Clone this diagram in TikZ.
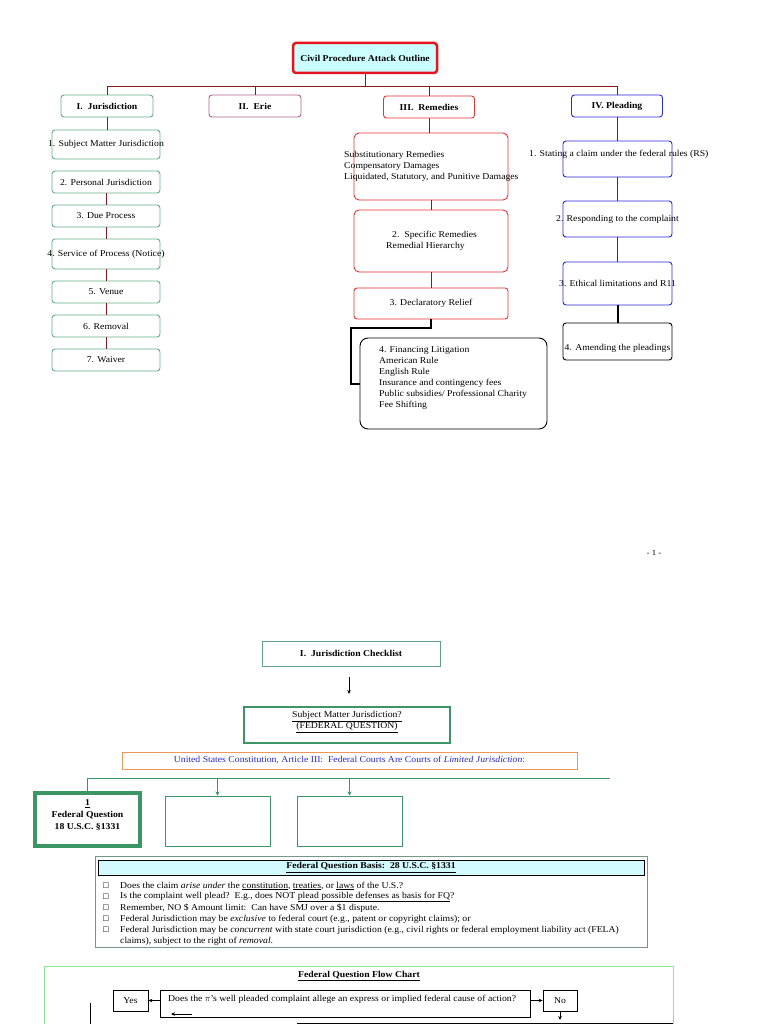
\documentclass[tikz,border=0pt]{standalone}
\usepackage{fontspec}
\setmainfont{Liberation Serif}[FakeStretch=1.08]
\newfontfamily\symfont{DejaVu Sans}
\usetikzlibrary{arrows.meta}
\definecolor{maroonc}{RGB}{140,20,30}
\definecolor{topred}{RGB}{230,20,30}
\definecolor{topfill}{RGB}{204,255,255}
\definecolor{jgreen}{RGB}{100,175,135}
\definecolor{eriec}{RGB}{175,100,135}
\definecolor{remred}{RGB}{230,50,50}
\definecolor{plblue}{RGB}{40,40,220}
\definecolor{tgreen}{RGB}{60,150,100}
\definecolor{chkgreen}{RGB}{100,160,130}
\definecolor{orangec}{RGB}{240,150,90}
\definecolor{bluetext}{RGB}{40,40,200}
\definecolor{lgreen}{RGB}{140,230,140}
\definecolor{fqfill}{RGB}{210,250,255}
\definecolor{outerc}{RGB}{120,150,135}
\tikzset{
  box/.style={draw, rounded corners=3pt, line width=0.9pt, inner sep=0pt, font=\fontsize{9}{11}\selectfont, align=center},
  sqbox/.style={draw, line width=0.8pt, inner sep=0pt, font=\fontsize{9}{11}\selectfont, align=center},
  txt/.style={inner sep=0pt, font=\fontsize{9}{11}\selectfont, align=left},
  conn/.style={draw=maroonc, line width=0.8pt},
  thickconn/.style={draw=black, line width=2pt},
  arr/.style={-{Stealth[length=4pt,width=3.5pt]}, line width=0.7pt},
  bul/.style={inner sep=0pt, font=\symfont\fontsize{7}{8}\selectfont},
}
\begin{document}
\begin{tikzpicture}[x=1pt,y=-1pt]
\useasboundingbox (0,0) rectangle (768,1024);
\clip (0,0) rectangle (768,1024);
\fill[white] (0,0) rectangle (768,1024);

% ---------- top outline ----------
\node[box, draw=topred, line width=2.5pt, fill=topfill, minimum width=144, minimum height=30, font=\bfseries\fontsize{9}{11}\selectfont] (top) at (365,58) {Civil Procedure Attack Outline};
\coordinate (hb) at (365,86);
\coordinate (hl) at (107,86);
\coordinate (hr) at (617,86);

\node[box, draw=jgreen, minimum width=92, minimum height=22, font=\bfseries\fontsize{9}{11}\selectfont] (jur) at (107,106) {I.\ \ Jurisdiction};
\node[box, draw=eriec, minimum width=92, minimum height=22, font=\bfseries\fontsize{9}{11}\selectfont] (erie) at (255,106) {II.\ \ Erie};
\node[box, draw=remred, minimum width=91, minimum height=22, font=\bfseries\fontsize{9}{11}\selectfont] (rem) at (429,107) {III.\ \ Remedies};
\node[box, draw=plblue, minimum width=91, minimum height=22, font=\bfseries\fontsize{9}{11}\selectfont] (pl) at (617,106) {IV. Pleading};

\draw[conn] (top.south) -- (hb);
\draw[conn] (hl) -- (hr);
\draw[conn] (jur.north |- hb) -- (jur.north);
\draw[conn] (erie.north |- hb) -- (erie.north);
\draw[conn] (rem.north |- hb) -- (rem.north);
\draw[conn] (pl.north |- hb) -- (pl.north);

% ---------- jurisdiction column ----------
\node[box, draw=jgreen, minimum width=108, minimum height=29] (j1) at (106,144.5) {};
\node[txt] at (j1) {1. Subject Matter Jurisdiction};
\node[box, draw=jgreen, minimum width=108, minimum height=22] (j2) at (106,182) {2. Personal Jurisdiction};
\node[box, draw=jgreen, minimum width=108, minimum height=22] (j3) at (106,216) {3. Due Process};
\node[box, draw=jgreen, minimum width=108, minimum height=30] (j4) at (106,254) {};
\node[txt] at (j4) {4. Service of Process (Notice)};
\node[box, draw=jgreen, minimum width=108, minimum height=22] (j5) at (106,292) {5. Venue};
\node[box, draw=jgreen, minimum width=108, minimum height=22] (j6) at (106,326) {6. Removal};
\node[box, draw=jgreen, minimum width=108, minimum height=22] (j7) at (106,360) {7. Waiver};

\draw[conn] (jur.south) -- (jur.south |- j1.north);
\draw[conn] (j2.south) -- (j3.north);
\draw[conn] (j3.south) -- (j4.north);
\draw[conn] (j4.south) -- (j5.north);
\draw[conn] (j5.south) -- (j6.north);
\draw[conn] (j6.south) -- (j7.north);

% ---------- remedies column ----------
\node[box, draw=remred, rounded corners=5pt, minimum width=154, minimum height=67] (rA) at (431,166.5) {};
\node[txt, anchor=west] at (344,166) {Substitutionary Remedies\\Compensatory Damages\\Liquidated, Statutory, and Punitive Damages};
\node[box, draw=remred, rounded corners=5pt, minimum width=154, minimum height=62] (rB) at (431,241) {};
\node[txt, anchor=west] at (386,241) {\hspace{6pt}2.\ \ Specific Remedies\\Remedial Hierarchy};
\node[box, draw=remred, minimum width=154, minimum height=31] (rC) at (431,303.5) {3. Declaratory Relief};
\node[box, draw=black, rounded corners=8pt, minimum width=187, minimum height=91] (rD) at (453.5,383.5) {};
\node[txt, anchor=west] at (379,378) {4. Financing Litigation\\American Rule\\English Rule\\Insurance and contingency fees\\Public subsidies/ Professional Charity\\Fee Shifting};

\draw[conn] (rem.south) -- (rem.south |- rA.north);
\draw[conn] (rA.south) -- (rB.north);
\draw[conn] (rB.south) -- (rC.north);
\coordinate (e1) at (351,328);
\draw[thickconn] (rC.south) |- (e1) |- (rD.west);

% ---------- pleading column ----------
\node[box, draw=plblue, minimum width=109, minimum height=36] (p1) at (617.5,159) {};
\node[txt, anchor=west] at (529,154) {1. Stating a claim under the federal rules (RS)};
\node[box, draw=plblue, minimum width=109, minimum height=36] (p2) at (617.5,219) {};
\node[txt, anchor=west] at (556,219) {2. Responding to the complaint};
\node[box, draw=plblue, minimum width=109, minimum height=43] (p3) at (617.5,283.5) {};
\node[txt, anchor=west] at (559,283) {3. Ethical limitations and R11};
\node[box, draw=black, minimum width=109, minimum height=37] (p4) at (617.5,341.5) {};
\node[txt] at (617.5,348) {4. Amending the pleadings};

\draw[conn] (pl.south) -- (pl.south |- p1.north);
\draw[conn] (p1.south) -- (p2.north);
\draw[conn] (p2.south) -- (p3.north);
\draw[thickconn] (p3.south) -- (p4.north);

% page number
\node[txt, font=\fontsize{8}{9}\selectfont] (pg) at (654,553) {- 1 -};

% ---------- checklist ----------
\node[sqbox, draw=chkgreen, minimum width=178, minimum height=25, font=\bfseries\fontsize{9}{11}\selectfont] (chk) at (351,653.5) {I.\ \ Jurisdiction Checklist};
\coordinate (a1) at (349,677);
\coordinate (a2) at (349,694);
\draw[arr] (a1) -- (a2);

\node[sqbox, draw=tgreen, line width=2.5pt, minimum width=206, minimum height=36] (smj) at (347,725) {};
\node[txt, align=center] at (347,722) {\underline{Subject Matter Jurisdiction?}\\\underline{(FEDERAL QUESTION)}};

\node[sqbox, draw=orangec, minimum width=455, minimum height=17, text=bluetext] (art) at (349.5,760.5) {United States Constitution, Article III:\ \ Federal Courts Are Courts of \textit{Limited Jurisdiction}:};

\node[sqbox, draw=tgreen, line width=3.5pt, minimum width=105, minimum height=53] (fq) at (87.5,819.5) {};
\node[txt, align=center, font=\bfseries\fontsize{9}{12}\selectfont] at (87.5,815) {\underline{1}\\Federal Question\\18 U.S.C. §1331};
\node[sqbox, draw=tgreen, line width=1pt, minimum width=105, minimum height=50] (b2) at (217.5,821) {};
\node[sqbox, draw=tgreen, line width=1pt, minimum width=105, minimum height=50] (b3) at (349.5,821) {};

\coordinate (gl) at (88,778);
\coordinate (gr) at (610,778);
\draw[draw=tgreen, line width=0.8pt] (fq.north) |- (gr);
\draw[arr, draw=tgreen, -{Stealth[length=4pt,width=4pt]}] (b2.north |- gl) -- (b2.north);
\draw[arr, draw=tgreen, line width=1.4pt, -{Stealth[length=4pt,width=4pt]}] (b3.north |- gl) -- (b3.north);

% ---------- federal question basis ----------
\node[sqbox, draw=outerc, line width=0.8pt, minimum width=552, minimum height=91] (basis) at (371,902) {};
\node[sqbox, draw=black, fill=fqfill, minimum width=546, minimum height=15, font=\bfseries\fontsize{9}{11}\selectfont] (bh) at (371,867.5) {\underline{Federal Question Basis:\ \ 28 U.S.C. §1331}};

\node[bul] (q1) at (106,886) {□};
\node[bul] (q2) at (106,897) {□};
\node[bul] (q3) at (106,908) {□};
\node[bul] (q4) at (106,919) {□};
\node[bul] (q5) at (106,930) {□};
\node[txt, anchor=west] (l1) at (120,886) {Does the claim \textit{arise under} the \underline{constitution}, \underline{treaties}, or \underline{laws} of the U.S.?};
\node[txt, anchor=west] (l2) at (120,897) {Is the complaint well plead?\ \ E.g., does NOT \underline{plead possible defenses as basis for FQ}?};
\node[txt, anchor=west] (l3) at (120,908) {Remember, NO \$ Amount limit:\ \ Can have SMJ over a \$1 dispute.};
\node[txt, anchor=west] (l4) at (120,919) {Federal Jurisdiction may be \textit{exclusive} to federal court (e.g., patent or copyright claims); or};
\node[txt, anchor=west] (l5) at (120,930) {Federal Jurisdiction may be \textit{concurrent} with state court jurisdiction (e.g., civil rights or federal employment liability act (FELA)};
\node[txt, anchor=west] (l6) at (120,941) {claims), subject to the right of \textit{removal}.};

% ---------- flow chart ----------
\draw[draw=lgreen, line width=1pt] (44,966) rectangle (673,1040);
\node[txt, font=\bfseries\fontsize{9}{11}\selectfont] (fct) at (359,976) {\underline{Federal Question Flow Chart}};
\node[sqbox, minimum width=35, minimum height=21] (yes) at (130.5,1000.5) {Yes};
\node[sqbox, minimum width=370, minimum height=27] (q) at (345,1003.5) {};
\node[txt, anchor=west] at (168,999) {Does the $\pi$'s well pleaded complaint allege an express or implied federal cause of action?};
\node[sqbox, minimum width=34, minimum height=21] (no) at (560,1000.5) {No};
\draw[arr] (q.west |- yes) -- (yes.east);
\draw[arr] (q.east |- no) -- (no.west);
\coordinate (nd) at (556,1020);
\draw[arr] (no.south) -- (no.south |- nd);
\coordinate (qa1) at (192,1014);
\coordinate (qa2) at (171,1014);
\draw[arr, line width=1pt] (qa1) -- (qa2);
\coordinate (h1) at (297,1023);
\coordinate (h2) at (673,1023);
\draw[line width=0.8pt] (h1) -- (h2);
\coordinate (v1) at (90,1003);
\coordinate (v2) at (90,1030);
\draw[line width=0.8pt] (v1) -- (v2);
\end{tikzpicture}
\end{document}
